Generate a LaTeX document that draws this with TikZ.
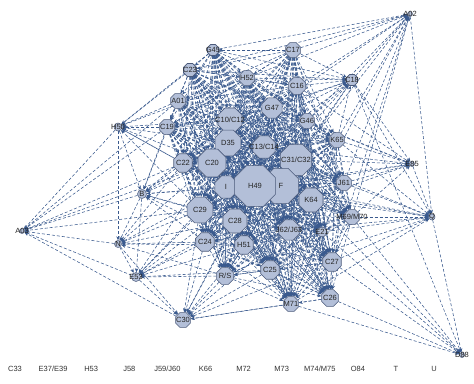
\documentclass[tikz,border=0pt]{standalone}
\usepackage{fontspec}
\setmainfont{Liberation Sans}
\usetikzlibrary{shapes.geometric,arrows.meta,backgrounds}
\definecolor{nodefill}{HTML}{B3BFD8}
\definecolor{nodeline}{HTML}{4B5A7A}
\definecolor{edgeblue}{HTML}{3A5A8E}
\tikzset{
  vtx/.style={draw=nodeline, fill=nodefill, line width=0.6pt, regular polygon, regular polygon sides=8, inner sep=0pt, minimum size=#1},
  tinyvtx/.style={draw=nodeline, fill=nodefill, circle, line width=0.5pt, inner sep=0pt, minimum size=#1},
  link/.style={draw=edgeblue, line width=0.55pt, dash pattern=on 3pt off 2pt, -{Stealth[length=4pt,width=3.4pt]}},
  every label/.style={font=\fontsize{7.5}{8}\selectfont, text=black!85, inner sep=0pt},
  legend/.style={font=\fontsize{7.5}{8}\selectfont, text=black!80, inner sep=0pt}
}
\begin{document}
\begin{tikzpicture}[x=1pt, y=-1pt]
\useasboundingbox (0,0) rectangle (474,383);
% outer nodes
\node[tinyvtx=5, label=center:A02] (a02) at (410,14) {};
\node[tinyvtx=5, label=center:E85] (e85) at (412,164) {};
\node[tinyvtx=6, label=center:Q] (q) at (432,217) {};
\node[tinyvtx=5, label=center:D88] (d88) at (462,355) {};
\node[tinyvtx=5, label=center:A03] (a03) at (22,231) {};
\node[tinyvtx=8, label=center:H50] (h50) at (118,127) {};
\node[tinyvtx=9, label=center:B] (b) at (142,194) {};
\node[tinyvtx=7, label=center:N] (n) at (118,244) {};
\node[tinyvtx=9, label=center:E53] (e53) at (136,277) {};
% inner nodes
\node[vtx=12, label=center:G45] (g45) at (213,50) {};
\node[vtx=12, label=center:C18] (c18) at (352,80) {};
\node[vtx=14, label=center:C23] (c23) at (190,70) {};
\node[vtx=16, label=center:C17] (c17) at (293,50) {};
\node[vtx=16, label=center:H52] (h52) at (247,78) {};
\node[vtx=18, label=center:C16] (c16) at (297,86) {};
\node[vtx=16, label=center:A01] (a01) at (178,101) {};
\node[vtx=16, label=center:G46] (g46) at (307,121) {};
\node[vtx=16, label=center:C19] (c19) at (167,127) {};
\node[vtx=16, label=center:K65] (k65) at (337,140) {};
\node[vtx=16, label=center:J61] (j61) at (344,183) {};
\node[vtx=16, label=center:M69/M70] (m6970) at (352,217) {};
\node[vtx=10, label=center:E21] (e21) at (322,232) {};
\node[vtx=16, label=center:M71] (m71) at (291,304) {};
\node[vtx=16, label=center:C30] (c30) at (183,320) {};
\node[vtx=18, label=center:C26] (c26) at (330,298) {};
\node[vtx=18, label=center:R/S] (rs) at (225,276) {};
\node[vtx=20, label=center:C27] (c27) at (332,262) {};
\node[vtx=20, label=center:C25] (c25) at (270,270) {};
\node[vtx=20, label=center:H51] (h51) at (244,245) {};
\node[vtx=20, label=center:C24] (c24) at (205,242) {};
\node[vtx=20, label=center:C22] (c22) at (183,163) {};
\node[vtx=22, label=center:G47] (g47) at (272,108) {};
\node[vtx=22, label=center:J62/J63] (j6263) at (289,230) {};
\node[vtx=24, label=center:C13/C14] (c1314) at (264,147) {};
\node[vtx=24, label=center:I] (i) at (226,187) {};
\node[vtx=26, label=center:C10/C12] (c1012) at (230,120) {};
\node[vtx=26, label=center:C28] (c28) at (235,221) {};
\node[vtx=26, label=center:K64] (k64) at (311,200) {};
\node[vtx=28, label=center:D35] (d35) at (228,143) {};
\node[vtx=28, label=center:C29] (c29) at (200,210) {};
\node[vtx=30, label=center:C20] (c20) at (212,163) {};
\node[vtx=34, label=center:C31/C32] (c3132) at (296,160) {};
\node[vtx=38, label=center:F] (f) at (281,186) {};
\node[vtx=44, label=center:H49] (h49) at (255,186) {};
% nodes without links
\foreach \lbl [count=\k] in {C33,E37/E39,H53,J58,J59/J60,K66,M72,M73,M74/M75,O84,T,U}
  \node[legend] (free\k) at ({15+38.1*(\k-1)},369) {\lbl};
\begin{pgfonlayer}{background}
\fill[white] (0,0) rectangle (474,383);
\def\core{c17,g45,c23,h52,c16,a01,g47,g46,c1012,c19,d35,c1314,k65,c22,c20,c3132,j61,i,h49,f,k64,c29,m6970,c28,j6263,e21,c24,h51,c27,c25,rs,c26,m71}
\foreach \a [count=\i] in \core {
  \foreach \b [count=\j] in \core {
    \ifnum\j>\i \draw[link] (\a) -- (\b); \fi
  }
}
\foreach \s in {c17,g45,c23,c16,c18,g46,k65,h52,g47,j61,m6970,c3132,c27,k64}
  \draw[link] (\s) -- (a02);
\foreach \s in {c17,c16,g47,g46,h52,c1012,k65,c3132,d35,f,h49,c1314,c23,g45}
  \draw[link] (\s) -- (c18);
\foreach \s in {k65,c3132,j61,k64,c16,g46,h49,f,c1314,g47,m6970,c18}
  \draw[link] (\s) -- (e85);
\foreach \s in {j61,k64,m6970,c3132,e85,k65,f,h49,c27,e21,j6263,m71,c25,c18,a02}
  \draw[link] (\s) -- (q);
\foreach \s in {c27,c26,m71,m6970,c18,e21,k64,q}
  \draw[link] (\s) -- (d88);
\foreach \s in {c23,a01,c19,c1012,d35,c22,c20,g45,h52,i,c29}
  \draw[link] (\s) -- (h50);
\foreach \s in {h50,c19,c22,c20,a01,c29,c1012,d35,i,h49,c28,h51,c24}
  \draw[link] (\s) -- (b);
\foreach \s in {h50,b,c29,c24,c20,i,c28,c22,h51,rs}
  \draw[link] (\s) -- (n);
\foreach \s in {c29,c24,c28,h51,rs,c25,i,c20,h49,n,b}
  \draw[link] (\s) -- (e53);
\foreach \s in {rs,c24,h51,c25,m71,c28,c29,j6263,c26,h49,c27,e53,n}
  \draw[link] (\s) -- (c30);
\foreach \s in {h50,c19,c22,b,c20,c30,c29,a01,n,e53}
  \draw[link] (\s) -- (a03);
\end{pgfonlayer}
\end{tikzpicture}
\end{document}
